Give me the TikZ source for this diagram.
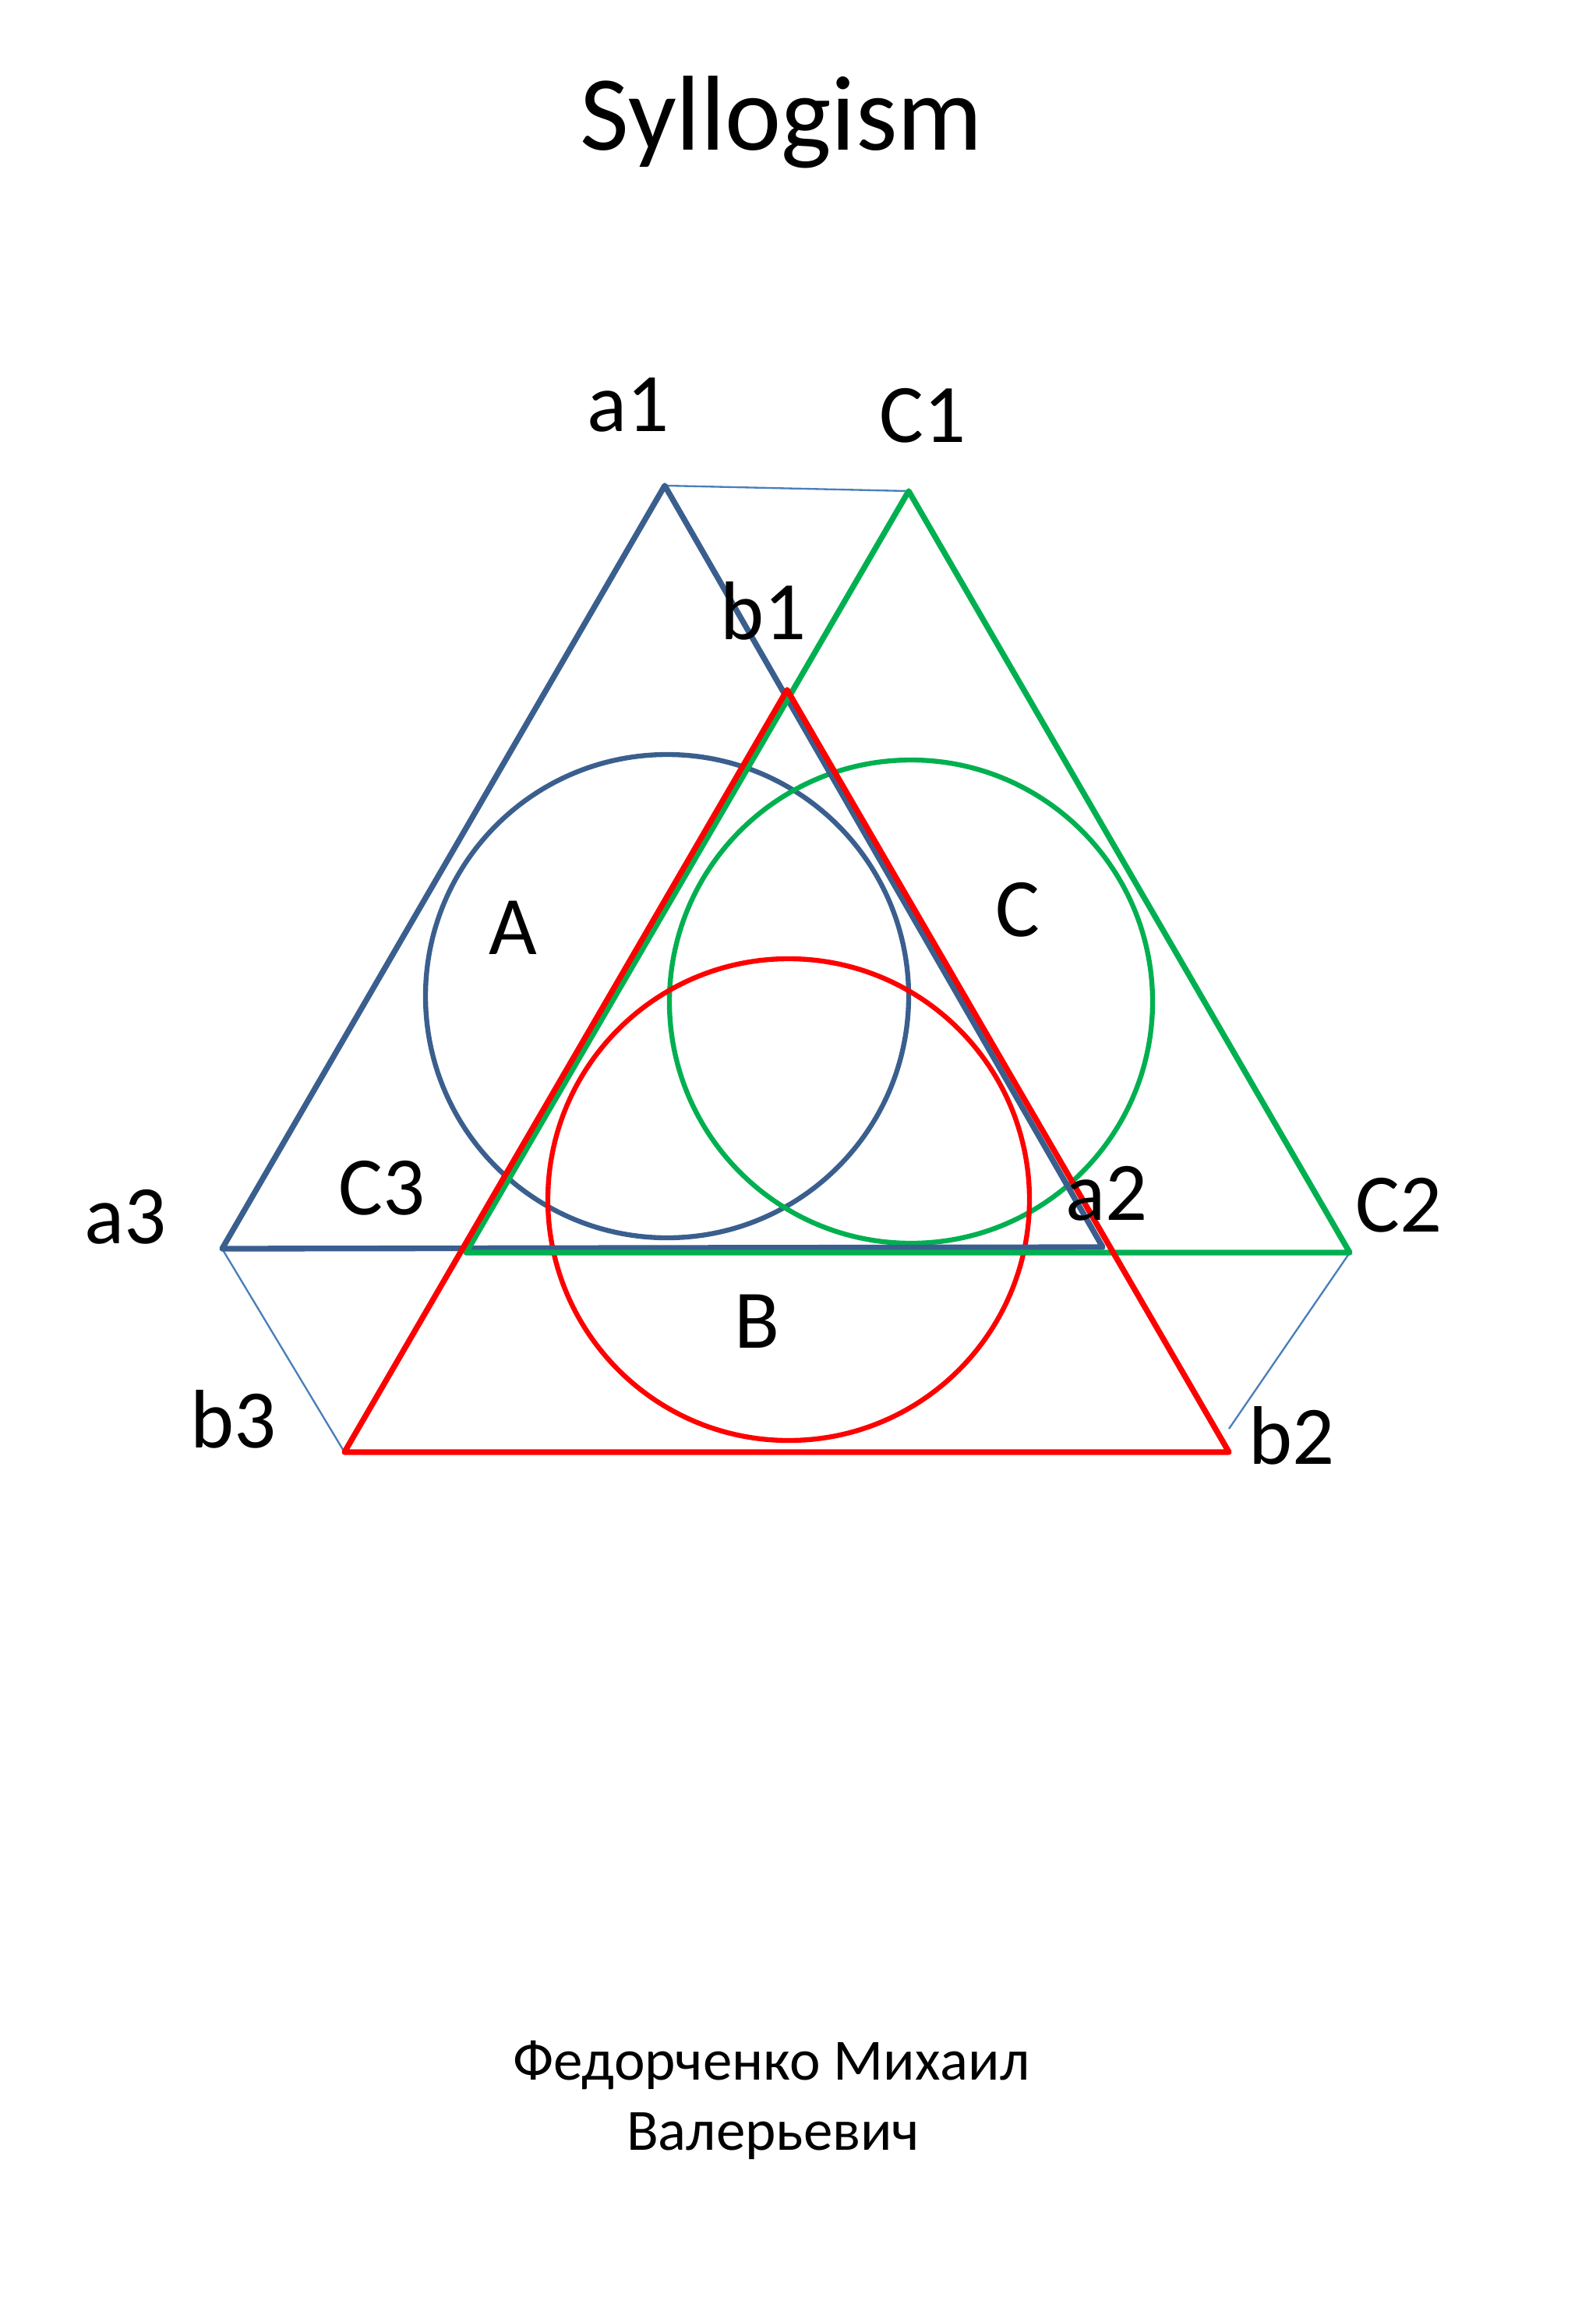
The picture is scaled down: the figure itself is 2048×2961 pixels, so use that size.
\documentclass[tikz,border=0pt]{standalone}
\usepackage{fontspec}
\setmainfont{Carlito}
\definecolor{tblue}{HTML}{3A5F8E}
\definecolor{lblue}{HTML}{4A7EBB}
\definecolor{tgreen}{HTML}{00B050}
\definecolor{tred}{HTML}{FF0000}
\tikzset{
  tri/.style={line width=2.2pt, line join=round},
  circ/.style={line width=1.9pt},
  thin/.style={lblue, line width=0.7pt},
  lbl/.style={anchor=base, inner sep=0pt, font=\fontsize{32}{38}\selectfont},
}
\begin{document}
\begin{tikzpicture}[x=0.3pt, y=-0.3pt]
\useasboundingbox (0,0) rectangle (2048,2961);
% vertices
\coordinate (a1) at (853,623);
\coordinate (a2) at (1415,1600);
\coordinate (a3) at (285,1602);
\coordinate (c1) at (1166,630);
\coordinate (c2) at (1732,1607);
\coordinate (c3) at (598,1607);
\coordinate (b1) at (1010,885);
\coordinate (b2) at (1577,1863);
\coordinate (b3) at (442,1863);
\coordinate (c2end) at (1577,1833);
% circle centres
\coordinate (ca) at (856,1278);
\coordinate (cc) at (1169,1285);
\coordinate (cb) at (1012,1539);
% thin connectors
\draw[thin] (a1) -- (c1);
\draw[thin] (a3) -- (b3);
\draw[thin] (c2) -- (c2end);
% circles
\draw[circ, tblue] (ca) circle[radius=310];
\draw[circ, tgreen] (cc) circle[radius=310];
\draw[circ, tred] (cb) circle[radius=309];
% triangles
\draw[tri, tblue] (a1) -- (a2) -- (a3) -- cycle;
\draw[tri, tgreen] (c1) -- (c2) -- (c3) -- cycle;
\draw[tri, tred] (b1) -- (b2) -- (b3) -- cycle;
% labels
\node[lbl] (la1) at (806,553) {a1};
\node[lbl] (lc1) at (1184,567) {C1};
\node[lbl] (lb1) at (980,820) {b1};
\node[lbl] (la3) at (161,1595) {a3};
\node[lbl] (lc3) at (490,1558) {C3};
\node[lbl] (la2) at (1420,1565) {a2};
\node[lbl] (lc2) at (1795,1580) {C2};
\node[lbl] (lb3) at (300,1857) {b3};
\node[lbl] (lb2) at (1658,1878) {b2};
\node[lbl] (lA) at (658,1224) {A};
\node[lbl] (lC) at (1306,1201) {C};
\node[lbl] (lB) at (971,1729) {B};
% title and author
\node[anchor=base, inner sep=0pt, font=\fontsize{41}{49}\selectfont] (title) at (1003,192) {Syllogism};
\node[anchor=base, inner sep=0pt, font=\fontsize{22.5}{27}\selectfont] (auth1) at (990,2668) {Федорченко Михаил};
\node[anchor=base, inner sep=0pt, font=\fontsize{22.5}{27}\selectfont] (auth2) at (992,2758) {Валерьевич};
\end{tikzpicture}
\end{document}
